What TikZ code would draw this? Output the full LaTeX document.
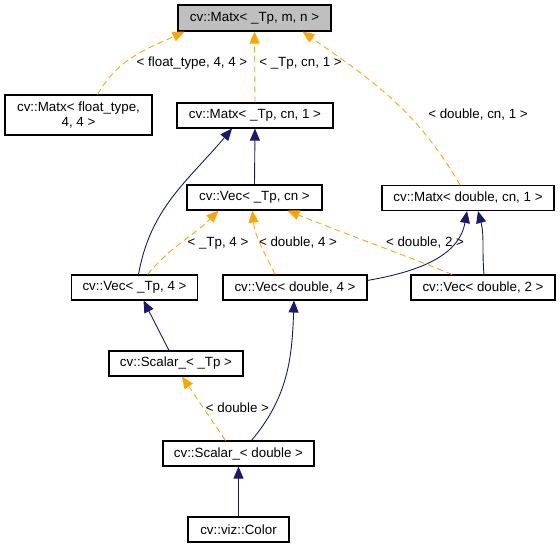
\documentclass[tikz,border=0pt]{standalone}
\usepackage{fontspec}
\setmainfont{Liberation Sans}
\usetikzlibrary{arrows.meta}

\definecolor{edgeblue}{HTML}{191970}
\definecolor{edgeorange}{HTML}{FFA500}
\definecolor{boxgray}{HTML}{BFBFBF}

\begin{document}
\begin{tikzpicture}[x=1bp, y=-1bp,
  every node/.style={font=\fontsize{13.4}{15}\selectfont, inner sep=0pt},
  cls/.style={draw=black, line width=1.1bp, fill=white, minimum height=25bp, align=center},
  inh/.style={draw=edgeblue, line width=0.9bp, -{Triangle[length=12bp, width=10bp]}},
  tmpl/.style={draw=edgeorange, line width=0.9bp, dash pattern=on 6bp off 4bp, -{Triangle[length=12bp, width=10bp]}}]

\useasboundingbox (0,0) rectangle (560,548);

\node[cls, fill=boxgray, minimum width=153bp, minimum height=26bp] (top) at (254.5, 18) {cv::Matx< \_Tp, m, n >};
\node[cls, minimum width=147bp, minimum height=40bp] (matxf) at (78.5, 115) {cv::Matx< float\_type,\\4, 4 >};
\node[cls, minimum width=156bp] (matxc) at (255, 115.5) {cv::Matx< \_Tp, cn, 1 >};
\node[cls, minimum width=135bp] (vec) at (254.5, 197.5) {cv::Vec< \_Tp, cn >};
\node[cls, minimum width=172bp] (matxd) at (468, 198) {cv::Matx< double, cn, 1 >};
\node[cls, minimum width=126bp] (vec4) at (134.5, 287.5) {cv::Vec< \_Tp, 4 >};
\node[cls, minimum width=144bp] (vecd4) at (295, 287.5) {cv::Vec< double, 4 >};
\node[cls, minimum width=144bp] (vecd2) at (483, 287.5) {cv::Vec< double, 2 >};
\node[cls, minimum width=134bp] (scal) at (176, 363.5) {cv::Scalar\_< \_Tp >};
\node[cls, minimum width=151bp] (scald) at (238.5, 453.5) {cv::Scalar\_< double >};
\node[cls, minimum width=101bp] (color) at (238.5, 529.5) {cv::viz::Color};

\node (lmf) at (192, 63) {< float\_type, 4, 4 >};
\node (lmc) at (300.5, 63) {< \_Tp, cn, 1 >};
\node (lmd) at (478, 115) {< double, cn, 1 >};
\node (lv4) at (218, 243) {< \_Tp, 4 >};
\node (lvd4) at (298, 243) {< double, 4 >};
\node (lvd2) at (425, 243) {< double, 2 >};
\node (lsd) at (237.5, 408) {< double >};

\draw[tmpl] ([xshift=19bp]matxf.north) to[out=60, in=-155] ([xshift=-70bp]top.south);
\draw[tmpl] (matxc.north) -- (top.south);
\draw[tmpl] ([xshift=-8bp]matxd.north) to[out=120, in=-35] ([xshift=48bp]top.south);

\draw[inh] (vec.north) -- (matxc.south);
\draw[inh] ([xshift=4bp]vec4.north) to[out=80, in=-130] ([xshift=-23bp]matxc.south);

\draw[tmpl] ([xshift=13bp]vec4.north) to[out=50, in=-135] ([xshift=-36bp]vec.south);
\draw[tmpl] ([xshift=-20bp]vecd4.north) to[out=115, in=-85] ([xshift=-2bp]vec.south);
\draw[tmpl] ([xshift=-31bp]vecd2.north) to[out=158, in=-22] ([xshift=33bp]vec.south);

\draw[inh] ([yshift=-6bp]vecd4.north east) to[out=10, in=-100] ([xshift=-1bp]matxd.south);
\draw[inh] ([xshift=1bp]vecd2.north) to[out=95, in=-75] ([xshift=10bp]matxd.south);

\draw[inh] ([xshift=-7bp]scal.north) -- ([xshift=9bp]vec4.south);
\draw[tmpl] ([xshift=-13bp]scald.north) -- ([xshift=6bp]scal.south);
\draw[inh] ([xshift=13bp]scald.north) to[out=50, in=-92] ([xshift=-1bp]vecd4.south);

\draw[inh] (color.north) -- (scald.south);

\end{tikzpicture}
\end{document}
